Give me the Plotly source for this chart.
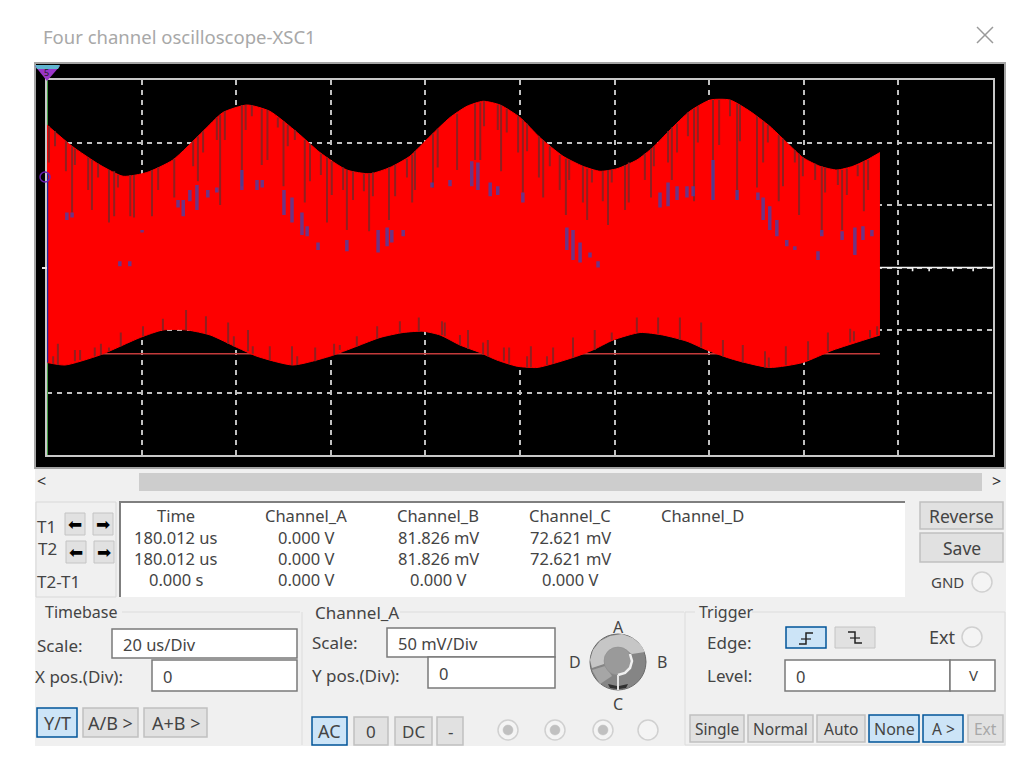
import plotly.graph_objects as go

# trace outline (time in us, level in mV)
upper_t = [0, 5.3, 11.2, 16.1, 21.1, 26.6, 33.0, 37.2, 42.3, 47.1, 52.9, 57.7, 63.4, 68.3, 72.5, 76.7, 81.0, 85.2, 88.8, 92.2, 95.8,
           100, 104.2, 109.1, 113.3, 116.9, 120.5, 124.7, 128.1, 131.7, 135.9, 140.2, 144.4, 148.6, 152.8, 156.4, 159.8, 163.4, 167.0, 170.4, 173.3, 176.1]
upper_v = [114, 97, 82, 73, 76, 86, 109, 124, 130, 125, 108, 92, 78, 75, 80, 89, 105, 120, 129, 133, 130,
           120, 104, 89, 81, 77, 79, 86, 96, 110, 125, 134, 134, 125, 113, 100, 88, 81, 78, 81, 86, 92]
lower_t = [0, 3.8, 11.2, 19.7, 24.5, 29.6, 34.5, 40.2, 44.4, 52.0, 59.8, 65.5, 70.4, 75.3, 79.5, 83.1, 87.3, 91.5, 95.1, 99.4,
           103.6, 107.8, 112.0, 115.4, 119.7, 125.4, 130.2, 135.3, 139.5, 143.8, 146.5, 152.8, 159.8, 166.2, 176.1]
lower_v = [-76, -78, -70, -56, -50, -50, -54, -64, -71, -78, -71, -63, -56, -52, -51, -54, -62, -68, -74, -79,
           -80, -76, -71, -66, -58, -52, -54, -59, -66, -72, -75, -80, -76, -66, -54]

# dark notches hanging from the top edge
notch_t = [0.4, 1.7, 4.0, 5.3, 5.9, 8.7, 9.5, 10.8, 13.1, 14.2, 15.0, 17.6, 18.4, 22.2, 23.5, 26.9, 30.9, 31.9, 33.0, 35.9, 36.6, 37.6,
           41.2, 42.0, 43.3, 45.4, 46.6, 48.8, 50.0, 50.9, 52.4, 54.5, 55.6, 57.9, 59.2, 60.2, 62.6, 63.4, 64.7, 67.0, 68.1, 68.9, 72.3, 73.6,
           76.1, 77.2, 77.8, 81.6, 82.6, 86.7, 90.5, 91.6, 92.4, 95.3, 96.0, 97.2, 99.6, 100.6, 101.5, 104.0, 104.9, 106.3, 108.4, 109.7, 110.4,
           113.3, 114.2, 115.2, 117.5, 118.6, 119.4, 122.2, 123.0, 126.4, 127.7, 128.3, 131.3, 132.1, 133.2, 135.5, 136.8, 137.6, 140.8, 142.1,
           144.4, 145.9, 146.5, 150.1, 151.4, 152.4, 154.7, 155.6, 158.1, 159.0, 159.8, 162.4, 163.8, 164.5, 167.2, 168.1, 169.1, 171.4, 172.7, 173.6]
notch_top = [113, 109, 101, 97, 95, 88, 86, 83, 78, 77, 74, 74, 74, 78, 80, 87, 101, 105, 109, 120, 122, 125,
             130, 130, 130, 127, 126, 120, 117, 114, 110, 102, 99, 91, 88, 85, 80, 78, 77, 75, 75, 76, 80, 82,
             87, 90, 93, 107, 111, 123, 131, 132, 133, 130, 130, 127, 121, 118, 115, 105, 102, 97, 90, 87, 86,
             81, 79, 78, 77, 78, 78, 82, 84, 91, 95, 97, 109, 112, 115, 124, 127, 129, 134, 134,
             134, 131, 130, 121, 117, 114, 106, 103, 94, 91, 88, 83, 81, 80, 78, 78, 79, 82, 85, 86]
notch_end = [84, 97, 77, 44, 82, 62, 46, 72, 36, 41, 64, 41, 40, 41, 62, 56, 81, 69, 92, 102, 50, 102,
             65, 110, 121, 82, 86, 112, 65, 97, 102, 52, 69, 74, 36, 58, 62, 30, 54, 61, 29, 57, 38, 57,
             72, 52, 62, 64, 80, 78, 86, 86, 113, 110, 77, 108, 92, 60, 93, 72, 56, 81, 62, 42, 70,
             52, 38, 68, 53, 34, 68, 46, 52, 70, 56, 81, 84, 70, 92, 105, 53, 100, 54, 98,
             121, 54, 101, 64, 84, 100, 53, 65, 84, 42, 73, 70, 28, 60, 66, 30, 58, 73, 45, 62]

# dark notches rising from the bottom edge
tick_t = [1.3, 2.3, 5.9, 7.0, 10.1, 11.4, 13.1, 15.6, 20.3, 24.5, 29.4, 33.6, 38.3, 39.5, 42.5, 43.5, 47.1, 51.8, 52.9, 56.7, 60.7, 61.9,
          65.5, 69.8, 74.6, 78.6, 83.5, 84.1, 87.3, 89.0, 92.2, 93.2, 96.6, 97.7, 101.5, 102.3, 105.7, 107.0, 111.2, 115.8, 119.4, 124.7,
          129.2, 133.8, 138.3, 142.9, 147.1, 151.8, 152.6, 156.2, 160.9, 165.1, 169.8, 170.6, 174.0, 175.5]
tick_base = [-77, -78, -75, -74, -71, -70, -67, -63, -55, -50, -50, -53, -61, -63, -67, -69, -74, -78, -78, -75, -70, -66,
             -63, -57, -52, -51, -54, -55, -62, -65, -70, -71, -75, -77, -80, -80, -78, -77, -72, -66, -58, -52,
             -53, -58, -64, -71, -76, -80, -80, -78, -74, -67, -60, -59, -56, -54]
tick_tip = [-71, -61, -66, -66, -64, -61, -64, -52, -47, -41, -34, -39, -44, -55, -50, -63, -63, -63, -71, -64, -61, -62,
            -55, -47, -43, -40, -43, -44, -54, -50, -60, -58, -64, -64, -71, -63, -71, -64, -56, -50, -52, -40,
            -40, -40, -44, -58, -62, -67, -72, -63, -59, -52, -49, -51, -50, -47]

# blue channel showing through the red
blue_t = [4.2, 5.3, 15.4, 17.5, 20.1, 27.7, 28.8, 30.2, 31.7, 34.0, 35.9, 41.2, 44.4, 45.5, 50.1, 51.8, 53.9, 55.0, 57.3, 63.4, 70.0, 71.9, 72.9, 75.3,
          81.4, 85.2, 89.8, 91.1, 93.7, 95.3, 100.6, 109.9, 111.2, 112.7, 114.8, 116.5, 129.6, 131.3, 133.2, 135.3, 136.6, 140.8, 145.9,
          150.3, 151.4, 152.8, 154.3, 156.4, 158.1, 163.0, 163.8, 168.1, 170.8, 172.5, 174.4]
blue_hi = [44, 44, 5, 5, 30, 54, 54, 62, 66, 62, 64, 78, 70, 70, 62, 56, 44, 33, 20, 22, 30, 32, 30, 30,
           68, 70, 85, 84, 68, 65, 60, 32, 30, 20, 12, 5, 60, 68, 65, 65, 65, 86, 62,
           60, 56, 49, 38, 22, 17, 13, 30, 29, 32, 33, 30]
blue_lo = [38, 40, 1, 1, 28, 48, 41, 53, 46, 56, 60, 62, 62, 64, 42, 36, 26, 25, 14, 13, 12, 17, 20, 25,
           64, 65, 65, 62, 57, 58, 52, 14, 6, 4, 8, 0, 48, 49, 54, 56, 57, 54, 54,
           54, 38, 30, 25, 17, 14, 6, 25, 22, 10, 22, 25]

# other traces
chan_c_t = [0, 176.1]
chan_c_v = [-69, -69]
blue_edge_t = [0, 0]
blue_edge_v = [75, -76]
cursor_t = [0, 0]
cursor_v = [150, -150]
white_t = [176.1, 183, 183, 183, 186.5, 186.5, 186.5, 191.5, 191.5, 191.5, 195.8, 195.8, 195.8, 201]
white_v = [0, 0, -3, 0, 0, -3, 0, 0, -3, 0, 0, -3, 0, 0]

# readout panel
readout_heads = ["Time", "Channel_A", "Channel_B", "Channel_C", "Channel_D"]
readout_x = [176, 306, 438, 570, 702]
readout_t1 = ["180.012 us", "0.000 V", "81.826 mV", "72.621 mV", ""]
readout_t2 = ["180.012 us", "0.000 V", "81.826 mV", "72.621 mV", ""]
readout_dt = ["0.000 s", "0.000 V", "0.000 V", "0.000 V", ""]

UI_FONT = "Noto Sans"
BTN = "#e1e1e1"
BTN_LINE = "#c0c0c0"
HI = "#cce4f7"
HI_LINE = "#005499"

shapes = []
notes = []


def fx(x):
    return x / 1009


def fy(y):
    return 1 - y / 768


def box(x0, y0, x1, y1, fill="rgba(0,0,0,0)", line="rgba(0,0,0,0)", width=1, layer="below"):
    shapes.append(dict(type="rect", xref="paper", yref="paper", x0=fx(x0), x1=fx(x1), y0=fy(y0), y1=fy(y1),
                       fillcolor=fill, line=dict(color=line, width=width), layer=layer))


def circle(cx, cy, r, fill="#f4f4f4", line="#d0d0d0", width=1.5, layer="below"):
    shapes.append(dict(type="circle", xref="paper", yref="paper", x0=fx(cx - r), x1=fx(cx + r), y0=fy(cy - r), y1=fy(cy + r),
                       fillcolor=fill, line=dict(color=line, width=width), layer=layer))


def poly(points, fill=None, line="rgba(0,0,0,0)", width=1, layer="below", closed=True):
    path = "M " + " L ".join(f"{fx(x):.5f},{fy(y):.5f}" for x, y in points)
    if closed:
        path += " Z"
    shapes.append(dict(type="path", xref="paper", yref="paper", path=path, fillcolor=fill if fill else "rgba(0,0,0,0)",
                       line=dict(color=line, width=width), layer=layer))


def label(x, y, text, anchor="left", color="#444444", size=17, family=UI_FONT):
    notes.append(dict(x=fx(x), y=fy(y), xref="paper", yref="paper", text=text, showarrow=False, xanchor=anchor,
                      yanchor="middle", font=dict(family=family, size=size, color=color)))


def button(x0, y0, x1, y1, text, on=False, color="#444444", size=15.5):
    box(x0, y0, x1, y1, HI if on else BTN, HI_LINE if on else BTN_LINE, 1.5)
    label((x0 + x1) / 2, (y0 + y1) / 2, text, "center", color, size)


def field(x0, y0, x1, y1, text=None):
    box(x0, y0, x1, y1, "white", "#7a7a7a", 1.5)
    if text:
        label(x0 + 9, (y0 + y1) / 2 + 1, text, size=16.5)


# window
label(41, 36, "Four channel oscilloscope-XSC1", color="#a8a8a8", size=18.5)
poly([(977, 27), (993, 43)], line="#9a9a9a", width=1.5, closed=False)
poly([(993, 27), (977, 43)], line="#9a9a9a", width=1.5, closed=False)
box(35, 465, 1006, 746, "#f0f0f0")
box(35, 63, 1005, 468, "black", "#a4a4a4", 2)

# scrollbar
box(139, 473, 982, 491, "#cdcdcd")
label(41, 481, "<", "center", "#333333", 16)
label(996, 481, ">", "center", "#333333", 16)

# cursor buttons and readout
box(36, 502, 116, 597, line="#d8d8d8")
label(35, 526, "T1")
label(36, 548, "T2")
label(35, 581, "T2-T1")
for bx, by in [(65, 513), (93, 513), (66, 541), (94, 541)]:
    box(bx, by, bx + 20, by + 22, "#e1e1e1", "#c4c4c4")
    arrow = "⬅" if bx < 80 else "➡"
    label(bx + 10, by + 11, arrow, "center", "black", 17, "DejaVu Sans")
box(120, 502, 905, 597, "white")
poly([(120, 597), (120, 502), (905, 502)], line="#7f7f7f", width=2, closed=False)
for col, head in enumerate(readout_heads):
    label(readout_x[col], 515, head, "center", size=16.5)
    label(readout_x[col], 537, readout_t1[col], "center", size=16.5)
    label(readout_x[col], 558, readout_t2[col], "center", size=16.5)
    label(readout_x[col], 579, readout_dt[col], "center", size=16.5)
button(920, 502, 1003, 529, "Reverse", size=17.5)
button(920, 533, 1003, 562, "Save", size=17.5)
label(947, 582, "GND", "center", size=15)
circle(982, 582, 10)

# timebase group
poly([(122, 612), (300, 612)], line="#dcdcdc", closed=False)
poly([(302, 612), (302, 745)], line="#dcdcdc", closed=False)
label(43, 612, "Timebase", size=16)
label(35, 645, "Scale:")
field(112, 629, 297, 658, "20 us/Div")
label(33, 676, "X pos.(Div):")
field(152, 660, 297, 691, "0")
button(37, 708, 77, 737, "Y/T", on=True, size=18)
button(83, 708, 138, 737, "A/B >", size=18)
button(144, 708, 207, 737, "A+B >", size=18)

# channel group
poly([(400, 612), (684, 612)], line="#dcdcdc", closed=False)
label(313, 612, "Channel_A")
label(310, 642, "Scale:")
field(387, 628, 555, 657, "50 mV/Div")
label(310, 675, "Y pos.(Div):")
field(428, 657, 555, 688, "0")
button(312, 717, 347, 745, "AC", on=True, size=18)
button(354, 717, 388, 745, "0", size=17)
button(395, 717, 432, 745, "DC", size=17)
button(437, 717, 463, 745, "-", size=17)
for rx, dot in [(508, True), (555, True), (603, True), (648, False)]:
    circle(rx, 730, 10)
    if dot:
        circle(rx, 730, 5, "#c0c0c0", "#c0c0c0", 0.5)

# channel knob
circle(618, 662, 28, "#858585", "#6a6a6a", 1)
poly([(592, 668), (590, 660), (593, 650), (600, 641), (610, 636), (622, 634), (633, 638), (641, 645), (645, 652),
      (632, 654), (622, 648), (608, 654), (604, 664)], "#c6c6c6")
poly([(592, 670), (605, 666), (612, 676), (600, 684)], "#a6a6a6")
circle(618, 661, 14, "#9a9a9a", "#8a8a8a", 0.5)
poly([(630, 654), (632, 661), (630, 668), (625, 673), (618, 675)], None, "#f0f0f0", 2.5, closed=False)
poly([(618, 675), (618, 690)], None, "#e4e4e4", 2, closed=False)
poly([(608, 684), (617, 686), (617, 689), (610, 688)], "#303030")
poly([(628, 684), (619, 686), (619, 689), (626, 688)], "#303030")
label(618, 627, "A", "center", size=16)
label(662, 662, "B", "center", size=16)
label(618, 704, "C", "center", size=16)
label(575, 662, "D", "center", size=16)

# trigger group
box(685, 612, 1005, 745, line="#dcdcdc")
box(695, 604, 752, 620, "#f0f0f0")
label(697, 612, "Trigger", size=16)
label(705, 642, "Edge:")
box(786, 627, 826, 648, HI, HI_LINE, 1.5)
poly([(799, 644), (806, 644), (806, 633), (813, 633)], None, "#222222", 1.5, closed=False)
poly([(801, 639), (811, 639)], None, "#222222", 1.2, closed=False)
box(835, 627, 875, 648, BTN, "#c4c4c4", 1)
poly([(848, 632), (855, 632), (855, 643), (862, 643)], None, "#222222", 1.5, closed=False)
poly([(850, 638), (860, 638)], None, "#222222", 1.2, closed=False)
label(942, 637, "Ext", "center", size=18)
circle(972, 637, 10)
label(705, 675, "Level:")
field(785, 660, 950, 691, "0")
field(950, 660, 995, 691)
label(973, 675, "V", "center", size=15)
button(690, 715, 744, 742, "Single")
button(748, 715, 813, 742, "Normal")
button(817, 715, 865, 742, "Auto")
button(869, 715, 919, 742, "None", on=True, size=16)
button(923, 715, 963, 742, "A >", on=True)
button(968, 715, 1003, 742, "Ext", color="#a8a8a8")

# cursor flag on the screen
poly([(35, 66), (60, 66), (47, 81)], "#9a35c8", layer="above")
poly([(35, 65), (60, 65), (58, 69), (37, 69)], "#5fb4cf", layer="above")
label(46, 72, "5", "center", "#222222", 9)
circle(45, 177, 5, "rgba(0,0,0,0)", "#6a1fb5", 1.5, layer="above")
poly([(42, 268), (47, 268)], None, "#e8e8e8", 2, layer="above", closed=False)

fig = go.Figure()

fig.add_trace(go.Scatter(x=cursor_t, y=cursor_v, mode="lines", line=dict(color="#3f9a3f", width=2), hoverinfo="skip"))
fig.add_trace(go.Scatter(x=chan_c_t, y=chan_c_v, mode="lines", line=dict(color="#c23a3a", width=1.5), hoverinfo="skip"))
# red band between the two edges
fig.add_trace(go.Scatter(x=upper_t, y=upper_v, mode="lines", line=dict(color="#fe0000", width=1, shape="spline", smoothing=0.6), hoverinfo="skip"))
fig.add_trace(go.Scatter(x=lower_t, y=lower_v, mode="lines", fill="tonexty", fillcolor="#fe0000",
                         line=dict(color="#fe0000", width=1, shape="spline", smoothing=0.6), hoverinfo="skip"))

notch_x, notch_y = [], []
for t, top, end in zip(notch_t, notch_top, notch_end):
    notch_x += [t, t, None]
    notch_y += [top, end, None]
fig.add_trace(go.Scatter(x=notch_x, y=notch_y, mode="lines", line=dict(color="#8e2020", width=2), hoverinfo="skip"))

tick_x, tick_y = [], []
for t, base, tip in zip(tick_t, tick_base, tick_tip):
    tick_x += [t, t, None]
    tick_y += [base, tip, None]
fig.add_trace(go.Scatter(x=tick_x, y=tick_y, mode="lines", line=dict(color="#8e2020", width=2), hoverinfo="skip"))

patch_x, patch_y = [], []
for t, hi, lo in zip(blue_t, blue_hi, blue_lo):
    patch_x += [t, t, None]
    patch_y += [hi, lo, None]
fig.add_trace(go.Scatter(x=patch_x, y=patch_y, mode="lines", line=dict(color="rgba(62,70,178,0.75)", width=3.5), hoverinfo="skip"))

fig.add_trace(go.Scatter(x=blue_edge_t, y=blue_edge_v, mode="lines", line=dict(color="#22229a", width=2.5), hoverinfo="skip"))
fig.add_trace(go.Scatter(x=white_t, y=white_v, mode="lines", line=dict(color="#f4f4f4", width=1.6), cliponaxis=False, hoverinfo="skip"))

fig.update_layout(
    width=1009,
    height=768,
    margin=dict(l=0, r=0, t=0, b=0),
    paper_bgcolor="white",
    plot_bgcolor="rgba(0,0,0,0)",
    showlegend=False,
    shapes=shapes,
    annotations=notes,
    xaxis=dict(domain=[fx(47), fx(993)], range=[0, 200], dtick=20, showticklabels=False, ticks="", zeroline=False,
               gridcolor="#c0c0c0", griddash="5px,5px", gridwidth=1.6, showline=True, mirror=True, linecolor="#c8c8c8", linewidth=2),
    yaxis=dict(domain=[fy(455), fy(80)], range=[-150, 150], dtick=50, showticklabels=False, ticks="", zeroline=False,
               gridcolor="#c0c0c0", griddash="5px,5px", gridwidth=1.6, showline=True, mirror=True, linecolor="#c8c8c8", linewidth=2),
)

fig.write_html("out.html", config=dict(displayModeBar=False),
               post_script="document.body.style.margin='0';document.body.style.overflow='hidden';")
